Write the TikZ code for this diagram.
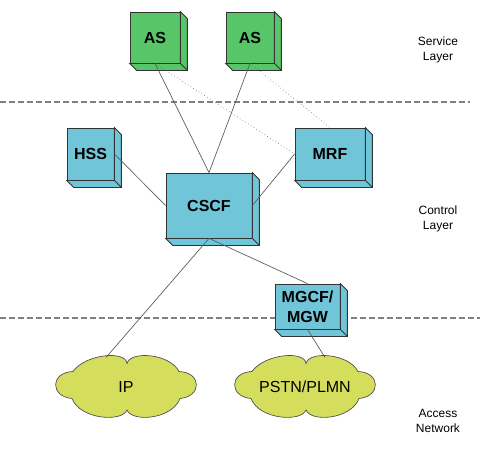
\documentclass[tikz,border=0pt]{standalone}
\usepackage{fontspec}
\setmainfont{Liberation Sans}
\usetikzlibrary{calc}
\definecolor{asgreen}{RGB}{88,198,104}
\definecolor{ctrlblue}{RGB}{112,198,216}
\definecolor{netyellow}{RGB}{212,222,92}
\tikzset{
    box/.style={draw=black!80, line width=0.6pt, fill=#1, font=\bfseries\fontsize{12}{15}\selectfont, align=center, inner sep=0pt},
    net/.style={draw=black!70, line width=0.5pt, fill=netyellow},
    nettext/.style={font=\fontsize{12}{14}\selectfont, inner sep=0pt},
    layer/.style={font=\fontsize{9}{11.25}\selectfont, align=center},
    link/.style={draw=black!65, line width=0.5pt},
    hint/.style={draw=black!60, line width=0.45pt, dotted},
    sep/.style={draw=black!50, line width=1.3pt, dash pattern=on 4.5pt off 2.25pt}
}
\begin{document}
\begin{tikzpicture}[x=0.75pt, y=-0.75pt]
            \useasboundingbox (0,0) rectangle (480,450);
            % Layer borders
            \draw[sep] (0,102) -- (470,102);
            \draw[sep] (0,318) -- (480,318);
            % Service layer
            \node[box=asgreen, minimum width=37.5pt, minimum height=38.25pt] (as1) at (155,37.5) {AS};
            \node[box=asgreen, minimum width=36pt, minimum height=38.25pt] (as2) at (250,37.5) {AS};
            % Control layer
            \node[box=ctrlblue, minimum width=35.25pt, minimum height=39pt] (hss) at (90.5,154) {HSS};
            \node[box=ctrlblue, minimum width=64.5pt, minimum height=48.75pt] (cscf) at (209,205.5) {CSCF};
            \node[box=ctrlblue, minimum width=52.5pt, minimum height=39pt] (mrf) at (330,154) {MRF};
            \node[box=ctrlblue, minimum width=48.75pt, minimum height=33.75pt] (mgcf) at (307.5,306.5) {MGCF/\\MGW};
            % Box sides
            \foreach \n/\c in {as1/asgreen, as2/asgreen, hss/ctrlblue, cscf/ctrlblue, mrf/ctrlblue, mgcf/ctrlblue} {
                \filldraw[fill=\c, draw=black!80, line width=0.6pt] (\n.south west) -- ++(7,7) -| ($(\n.north east)+(7,7)$) -- (\n.north east) -- (\n.south east) -- cycle;
                \draw[black!80, line width=0.6pt] (\n.south east) -- ++(7,7);
            }
            % Access network clouds
            \foreach \cx/\cy in {126/386.5, 305/386.5} {
                \begin{scope}[shift={(\cx,\cy)}]
                    \filldraw[net] (-54,12) .. controls (-76,10) and (-76,-14) .. (-53,-15)
                        .. controls (-40,-33) and (0,-36) .. (1,-23)
                        .. controls (4,-36) and (44,-33) .. (53,-15)
                        .. controls (76,-14) and (76,10) .. (54,12)
                        .. controls (46,33) and (6,36) .. (1,23.5)
                        .. controls (-4,36) and (-46,33) .. cycle;
                \end{scope}
            }
            \node[nettext] (ip) at (126,386.5) {IP};
            \node[nettext] (pstn) at (305,386.5) {PSTN/PLMN};
            \coordinate (iptop) at ($(ip)+(-20,-29)$);
            \coordinate (pstntop) at ($(pstn)+(20,-29)$);
            % Links
            \draw[link] (as1.south) -- (cscf.north);
            \draw[link] (as2.south) -- (cscf.north);
            \draw[hint] (as1.south) -- (mrf.west);
            \draw[hint] (as2.south) -- (mrf.north);
            \draw[link] (hss.east) -- (cscf.west);
            \draw[link] (mrf.west) -- (cscf.east);
            \draw[link] (cscf.south) -- (iptop);
            \draw[link] (cscf.south) -- (mgcf.north);
            \draw[link] (mgcf.south) -- (pstntop);
            % Layer names
            \node[layer] (service) at (438,50) {Service\\Layer};
            \node[layer] (control) at (438,219) {Control\\Layer};
            \node[layer] (access) at (438,421) {Access\\Network};
\end{tikzpicture}
\end{document}
